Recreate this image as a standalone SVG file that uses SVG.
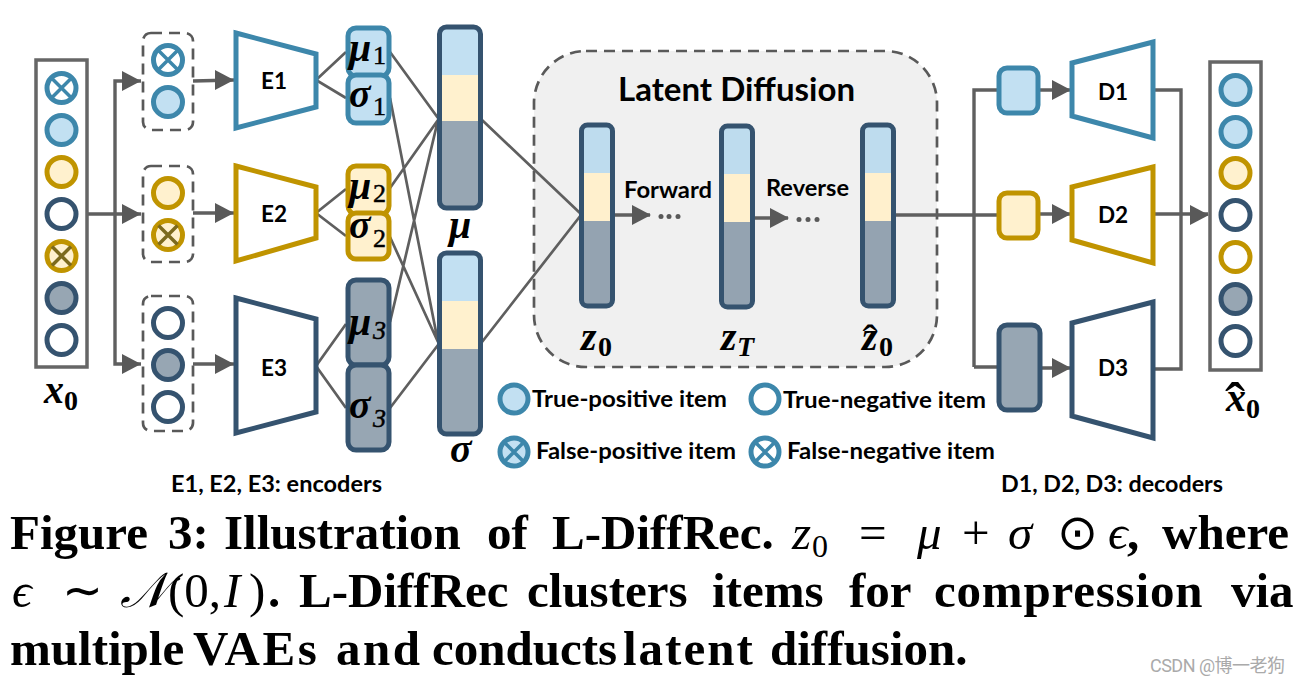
<svg xmlns="http://www.w3.org/2000/svg" width="1300" height="684" viewBox="0 0 1300 684">
<style>
.b{stroke:#3d87ab}.y{stroke:#c09400}.d{stroke:#35536f}
.fb{fill:#c2e0f2}.fy{fill:#fff1ce}.fd{fill:#97a6b3}.fw{fill:#fff}
.it{stroke-width:5}
.tr{fill:#fff;stroke-width:5;stroke-linejoin:miter}
.bx{stroke-width:5}
.frame{fill:#fff;stroke:#666;stroke-width:3.5}
.dash{fill:none;stroke:#595959;stroke-width:2.7;stroke-dasharray:11 7}
.ln{fill:none;stroke:#5f5f5f;stroke-width:2.7}
.lt{fill:none;stroke:#5f5f5f;stroke-width:3.4}
.ah{fill:#595959}
.cx{fill:none;stroke-width:3.5}
.lab{font-family:Lato,"Open Sans",sans-serif;font-weight:700;fill:#000}
.m{font-family:"Liberation Serif",serif;font-weight:700;font-style:italic;font-size:40px;fill:#000}
.s{font-family:"Liberation Serif",serif;font-size:26px;fill:#000;stroke:#000;stroke-width:.5}
.s0{font-family:"Liberation Serif",serif;font-size:28px;font-weight:700;fill:#000}
.hat{font-family:"Liberation Serif",serif;text-anchor:middle;fill:#000}
.cap{font-family:"Liberation Serif",serif;font-weight:700;font-size:49px;fill:#000}
.capm{font-family:"Liberation Serif",serif;font-style:italic;font-size:49px;fill:#000}
.capr{font-family:"Liberation Serif",serif;font-size:49px;fill:#000}
.dot{fill:#595959}
</style>
<defs>
<g id="cross"><path class="cx" d="M-9.500 -9.500L9.500 9.500M9.500 -9.500L-9.500 9.500"/></g>
<g id="tri"><path class="ah" d="M-19 -10L0 0L-19 10Z"/></g>
</defs>
<rect width="1300" height="684" fill="#fff"/>

<g id="latent-box">
<rect x="534" y="51" width="403" height="316" rx="52" fill="#f0f0f0"/>
<rect class="dash" x="534" y="51" width="403" height="316" rx="52"/>
<text class="lab" x="618" y="101" font-size="31.500" textLength="237" lengthAdjust="spacingAndGlyphs">Latent Diffusion</text>
</g>

<g id="connectors">
<path class="lt" d="M87 214H141M115 364V81H141M115 214V364H141"/>
<path class="lt" d="M193 81L234 80M193 213H234M193 364H234"/>
<path class="ln" d="M346 52L316 80L346 98M346 189L316 213L346 236M346 324L316 366L346 408"/>
<path class="ln" d="M390 52L438 118M390 188L438 120M390 322L438 120M390 98L438 342M390 237L438 342M390 408L438 345"/>
<path class="ln" d="M482 120L581 214M482 342L581 215"/>
<path class="lt" d="M612 215H650M752 218H788M895 215H997M974 367V90H997M974 367H997"/>
<path class="lt" d="M1039 90H1070M1039 214H1070M1041 368H1070"/>
<path class="lt" d="M1153 90H1181V369H1153M1153 214H1208"/>
<use href="#tri" x="141" y="81"/><use href="#tri" x="141" y="214"/><use href="#tri" x="141" y="364"/>
<use href="#tri" x="234" y="80"/><use href="#tri" x="234" y="213"/><use href="#tri" x="234" y="364"/>
<use href="#tri" x="651" y="215"/><use href="#tri" x="789" y="218"/>
<use href="#tri" x="1071" y="90"/><use href="#tri" x="1071" y="214"/><use href="#tri" x="1071" y="368"/>
<use href="#tri" x="1209" y="215"/>
<circle class="dot" cx="661" cy="216.500" r="2.500"/><circle class="dot" cx="669" cy="216.500" r="2.500"/><circle class="dot" cx="678" cy="216.500" r="2.500"/>
<circle class="dot" cx="799" cy="219.500" r="2.500"/><circle class="dot" cx="808" cy="219.500" r="2.500"/><circle class="dot" cx="817" cy="219.500" r="2.500"/>
</g>

<g id="x0">
<rect class="frame" x="36" y="60" width="51" height="307"/>
<circle class="it b fw" cx="61.500" cy="88" r="14.500"/><use href="#cross" x="61.500" y="88" class="b"/>
<circle class="it b fb" cx="61.500" cy="130" r="14.500"/>
<circle class="it y fy" cx="61.500" cy="172" r="14.500"/>
<circle class="it d fw" cx="61.500" cy="214" r="14.500"/>
<circle class="it y fy" cx="61.500" cy="256" r="14.500"/><use href="#cross" x="61.500" y="256" stroke="#7c6a1e"/>
<circle class="it d fd" cx="61.500" cy="298" r="14.500"/>
<circle class="it d fw" cx="61.500" cy="340" r="14.500"/>
<text class="m" x="44" y="403">x</text><text class="s0" x="64" y="410">0</text>
</g>

<g id="group1">
<rect class="dash" x="143" y="33" width="50" height="97" rx="8"/>
<circle class="it b fw" cx="168" cy="60" r="14.500"/><use href="#cross" x="168" y="60" class="b"/>
<circle class="it b fb" cx="168" cy="102" r="14.500"/>
</g>
<g id="group2">
<rect class="dash" x="143" y="166" width="50" height="96" rx="8"/>
<circle class="it y fy" cx="168" cy="193" r="14.500"/>
<circle class="it y fy" cx="168" cy="235" r="14.500"/><use href="#cross" x="168" y="235" stroke="#7c6a1e"/>
</g>
<g id="group3">
<rect class="dash" x="143" y="296" width="50" height="135" rx="8"/>
<circle class="it d fw" cx="168" cy="323" r="14.500"/>
<circle class="it d fd" cx="168" cy="365" r="14.500"/>
<circle class="it d fw" cx="168" cy="407" r="14.500"/>
</g>

<g id="E1"><path class="tr b" d="M236 33L316 54V107L236 128Z"/><text class="lab" x="261" y="89" font-size="22.500">E1</text></g>
<g id="E2"><path class="tr y" d="M236 166L316 187V238L236 261Z"/><text class="lab" x="261" y="222" font-size="22.500">E2</text></g>
<g id="E3"><path class="tr d" d="M236 298L316 319V412L236 433Z"/><text class="lab" x="261" y="376" font-size="22.500">E3</text></g>

<g id="mu1"><rect class="bx b fb" x="348" y="28" width="41" height="48" rx="8"/><text class="m" x="349" y="61">μ</text><text class="s" x="373" y="64">1</text></g>
<g id="sigma1"><rect class="bx b fb" x="348" y="75" width="41" height="48" rx="8"/><text class="m" x="349" y="107">σ</text><text class="s" x="373" y="115">1</text></g>
<g id="mu2"><rect class="bx y fy" x="348" y="166" width="41" height="48" rx="8"/><text class="m" x="349" y="199">μ</text><text class="s" x="373" y="202">2</text></g>
<g id="sigma2"><rect class="bx y fy" x="348" y="213" width="41" height="46" rx="8"/><text class="m" x="349" y="238">σ</text><text class="s" x="373" y="247">2</text></g>
<g id="mu3"><rect class="bx d fd" x="348" y="280" width="41" height="85" rx="8"/><text class="m" x="349" y="335">μ</text><text class="s" x="373" y="339" font-style="italic">3</text></g>
<g id="sigma3"><rect class="bx d fd" x="348" y="365" width="41" height="85" rx="8"/><text class="m" x="349" y="418">σ</text><text class="s" x="373" y="427" font-style="italic">3</text></g>

<g id="mu-bar">
<rect x="440" y="28" width="40" height="47" fill="#c2e0f2"/><rect x="440" y="75" width="40" height="46" fill="#fff1ce"/><rect x="440" y="121" width="40" height="85" fill="#97a6b3"/>
<rect class="bx d" fill="none" x="439.500" y="27" width="41" height="181" rx="7"/>
<text class="m" x="449" y="238">μ</text>
</g>
<g id="sigma-bar">
<rect x="440" y="254" width="40" height="47" fill="#c2e0f2"/><rect x="440" y="301" width="40" height="48" fill="#fff1ce"/><rect x="440" y="349" width="40" height="84" fill="#97a6b3"/>
<rect class="bx d" fill="none" x="439.500" y="253" width="41" height="181" rx="7"/>
<text class="m" x="450" y="462">σ</text>
</g>

<g id="z0">
<rect x="582" y="125" width="30" height="48" fill="#bedcee"/><rect x="582" y="173" width="30" height="48" fill="#fff0cd"/><rect x="582" y="221" width="30" height="84" fill="#94a3b1"/>
<rect class="bx d" fill="none" x="581.500" y="125" width="31" height="181" rx="6"/>
<text class="m" x="581" y="350">z</text><text class="s0" x="598" y="356">0</text>
</g>
<g id="zT">
<rect x="722" y="126" width="30" height="48" fill="#bedcee"/><rect x="722" y="174" width="30" height="48" fill="#fff0cd"/><rect x="722" y="222" width="30" height="84" fill="#94a3b1"/>
<rect class="bx d" fill="none" x="721.500" y="126" width="31" height="181" rx="6"/>
<text class="m" x="721" y="350">z</text><text class="s0" x="737" y="356" font-style="italic">T</text>
</g>
<g id="z0hat">
<rect x="863" y="125" width="30" height="48" fill="#bedcee"/><rect x="863" y="173" width="30" height="48" fill="#fff0cd"/><rect x="863" y="221" width="30" height="84" fill="#94a3b1"/>
<rect class="bx d" fill="none" x="862.500" y="125" width="31" height="181" rx="6"/>
<text class="hat" x="870" y="355" font-size="45">ˆ</text>
<text class="m" x="862" y="350">z</text><text class="s0" x="879" y="356">0</text>
</g>

<text class="lab" x="624" y="198" font-size="22.500" textLength="88" lengthAdjust="spacingAndGlyphs">Forward</text>
<text class="lab" x="766" y="196" font-size="22.500" textLength="83" lengthAdjust="spacingAndGlyphs">Reverse</text>

<g id="D1in"><rect class="bx b fb" x="999" y="68" width="39" height="45" rx="8"/></g>
<g id="D2in"><rect class="bx y fy" x="999" y="193" width="39" height="45" rx="8"/></g>
<g id="D3in"><rect class="bx d fd" x="999" y="325" width="41" height="85" rx="8"/></g>

<g id="D1"><path class="tr b" d="M1072 63L1153 42V138L1072 116Z"/><text class="lab" x="1098" y="100" font-size="22.500">D1</text></g>
<g id="D2"><path class="tr y" d="M1072 187L1153 167V263L1072 240Z"/><text class="lab" x="1098" y="223" font-size="22.500">D2</text></g>
<g id="D3"><path class="tr d" d="M1072 323L1153 302V438L1072 416Z"/><text class="lab" x="1098" y="376" font-size="22.500">D3</text></g>

<g id="x0hat">
<rect class="frame" x="1210" y="62" width="51" height="308"/>
<circle class="it b fb" cx="1235.500" cy="90" r="14.500"/>
<circle class="it b fb" cx="1235.500" cy="132" r="14.500"/>
<circle class="it y fy" cx="1235.500" cy="173" r="14.500"/>
<circle class="it d fw" cx="1235.500" cy="215" r="14.500"/>
<circle class="it y fw" cx="1235.500" cy="257" r="14.500"/>
<circle class="it d fd" cx="1235.500" cy="299" r="14.500"/>
<circle class="it d fw" cx="1235.500" cy="341" r="14.500"/>
<text class="hat" x="1235" y="423" font-size="60">ˆ</text>
<text class="m" x="1226" y="411">x</text><text class="s0" x="1246" y="418">0</text>
</g>

<g id="legend">
<circle class="it b fb" cx="514" cy="399" r="14"/>
<text class="lab" x="532" y="407" font-size="23" textLength="195" lengthAdjust="spacingAndGlyphs">True-positive item</text>
<circle class="it b fw" cx="765" cy="399" r="14"/>
<text class="lab" x="783" y="408" font-size="23" textLength="203" lengthAdjust="spacingAndGlyphs">True-negative item</text>
<circle class="it b fb" cx="514" cy="452" r="14"/><use href="#cross" x="514" y="452" class="b"/>
<text class="lab" x="536" y="459" font-size="23" textLength="200" lengthAdjust="spacingAndGlyphs">False-positive item</text>
<circle class="it b fw" cx="765" cy="452" r="14"/><use href="#cross" x="765" y="452" class="b"/>
<text class="lab" x="787" y="459" font-size="23" textLength="208" lengthAdjust="spacingAndGlyphs">False-negative item</text>
</g>
<text class="lab" x="171" y="492" font-size="23" textLength="211" lengthAdjust="spacingAndGlyphs">E1, E2, E3: encoders</text>
<text class="lab" x="1001" y="492" font-size="23" textLength="222" lengthAdjust="spacingAndGlyphs">D1, D2, D3: decoders</text>

<g id="caption">
<text class="cap" y="549"><tspan x="10">Figure</tspan><tspan x="168">3:</tspan><tspan x="224">Illustration</tspan><tspan x="487">of</tspan><tspan x="552">L-DiffRec.</tspan></text>
<text class="capm" x="792" y="549">z</text><text class="capr" x="812" y="557" style="font-size:32px">0</text>
<text class="capr" x="859" y="549">=</text>
<text class="capm" x="917" y="549">μ</text><text class="capr" x="962" y="549">+</text><text class="capm" x="1008" y="549">σ</text><text class="capr" x="1057" y="549">⊙</text><text class="capm" x="1108" y="549">ϵ</text><text class="cap" x="1127" y="549">,</text>
<text class="cap" x="1162" y="549">where</text>
<text class="capm" x="12" y="607">ϵ</text><text class="capr" x="62" y="607">∼</text><text class="capm" x="120" y="607">𝒩</text><text class="capr" x="168" y="607">(0,</text><text class="capm" x="224" y="607">I</text><text class="capr" x="249" y="607">)</text><text class="cap" x="268" y="607">.</text>
<text class="cap" y="607"><tspan x="299">L-DiffRec</tspan><tspan x="527">clusters</tspan><tspan x="712">items</tspan><tspan x="849">for</tspan><tspan x="934" letter-spacing="0.8">compression</tspan><tspan x="1231" letter-spacing="0">via</tspan></text>
<text class="cap" y="665"><tspan x="10">multiple</tspan><tspan x="193" letter-spacing="2.500">VAEs</tspan><tspan x="336" letter-spacing="2.500">and</tspan><tspan x="432" letter-spacing="0">conducts</tspan><tspan x="623" letter-spacing="2">latent</tspan><tspan x="770" letter-spacing="0">diffusion.</tspan></text>
</g>
<text x="1150" y="672" font-family="Roboto,'Noto Sans CJK SC',sans-serif" font-size="18" fill="#aaa" textLength="135">CSDN @博一老狗</text>
</svg>
